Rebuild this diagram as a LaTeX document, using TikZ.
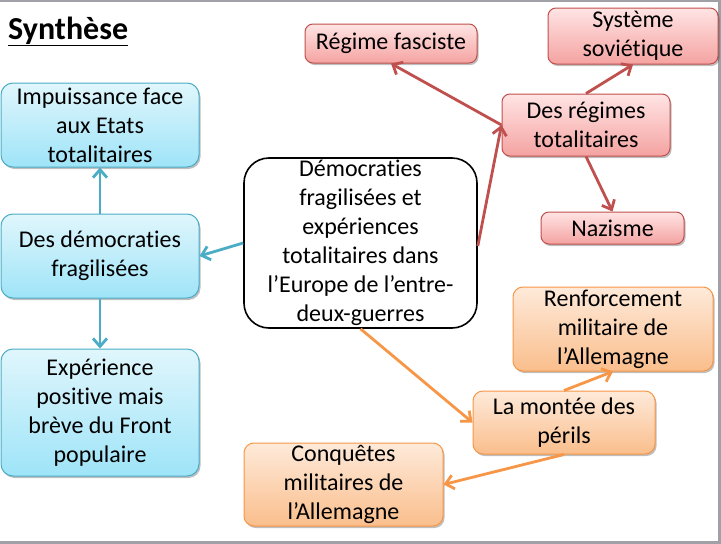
\documentclass[tikz,border=0pt]{standalone}
\usepackage{fontspec}
\setmainfont{Carlito}[Ligatures=NoCommon]
\usepackage{tikz}
\usetikzlibrary{positioning,arrows.meta,shadows}
\definecolor{Bt}{RGB}{224,246,252}
\definecolor{Bb}{RGB}{158,228,248}
\definecolor{Bl}{RGB}{75,172,198}
\definecolor{Rt}{RGB}{255,228,228}
\definecolor{Rb}{RGB}{244,163,161}
\definecolor{Rl}{RGB}{192,80,77}
\definecolor{Ot}{RGB}{254,234,218}
\definecolor{Ob}{RGB}{250,190,140}
\definecolor{Ol}{RGB}{247,150,70}
\definecolor{Fr}{RGB}{160,160,166}

\begin{document}
\begin{tikzpicture}[
  x=1pt, y=-1pt,
  every node/.style = {font=\fontsize{24}{29}\selectfont, align=center, inner sep=0pt},
  shad/.style = {drop shadow={shadow xshift=1.5pt, shadow yshift=-2pt, opacity=0.25, fill=black}},
  bluebox/.style = {
    rectangle, rounded corners=12pt, shad,
    draw=Bl, line width=1pt, top color=Bt, bottom color=Bb,
    minimum width=198pt
  },
  redbox/.style = {
    rectangle, rounded corners=8pt, shad,
    draw=Rl, line width=1pt, top color=Rt, bottom color=Rb
  },
  orbox/.style = {
    rectangle, rounded corners=10pt, shad,
    draw=Ol, line width=1pt, top color=Ot, bottom color=Ob
  },
  mainbox/.style = {
    rectangle, rounded corners=25pt,
    draw=black, line width=1.6pt, fill=white,
    minimum width=233pt, minimum height=170pt
  },
  ba/.style = {-{Straight Barb[length=8pt,width=14pt]}, line width=2.8pt, Bl},
  ra/.style = {-{Straight Barb[length=8pt,width=14pt]}, line width=2.8pt, Rl},
  oa/.style = {-{Straight Barb[length=8pt,width=14pt]}, line width=2.8pt, Ol}
]
\useasboundingbox (0,0) rectangle (721,544);

%% ---------- Frame and title ----------
\draw[Fr, line width=2pt] (0,1) -- (721,1);
\draw[Fr, line width=2.5pt] (719.7,0) -- (719.7,544);
\draw[Fr, line width=3pt] (0,542.5) -- (721,542.5);

\node[anchor=base west, font=\fontsize{32}{36}\selectfont\bfseries] (titre)
    at (8,39) {\underline{Synthèse}};

%% ---------- Centre ----------
\node[mainbox] (centre) at (360.5,243)
    {Démocraties\\fragilisées et\\expériences\\totalitaires dans\\l’Europe de l’entre-\\deux-guerres};

%% ---------- Democraties (blue) ----------
\node[bluebox, minimum height=84pt] (impuis) at (100,125)
    {Impuissance face\\aux Etats\\totalitaires};
\node[bluebox, minimum height=84pt] (demo) at (100,256)
    {Des démocraties\\fragilisées};
\node[bluebox, minimum height=127pt] (front) at (100,412.5)
    {Expérience\\positive mais\\brève du Front\\populaire};

%% ---------- Regimes totalitaires (red) ----------
\node[redbox, minimum width=172pt, minimum height=39pt] (fasc) at (391,43.5)
    {Régime fasciste};
\node[redbox, minimum width=170pt, minimum height=56pt] (sovi) at (633,36)
    {Système\\soviétique};
\node[redbox, minimum width=168pt, minimum height=62pt] (regimes) at (586,125)
    {Des régimes\\totalitaires};
\node[redbox, minimum width=143pt, minimum height=32pt] (nazi) at (612.5,228)
    {Nazisme};

%% ---------- Montee des perils (orange) ----------
\node[orbox, minimum width=200pt, minimum height=84pt] (renfort) at (613,329)
    {Renforcement\\militaire de\\l’Allemagne};
\node[orbox, minimum width=182pt, minimum height=63pt] (perils) at (564,422.5)
    {La montée des\\périls};
\node[orbox, minimum width=199pt, minimum height=83pt] (conq) at (343.5,484.5)
    {Conquêtes\\militaires de\\l’Allemagne};

%% ---------- Arrows ----------
\draw[ba] (demo.north) -- (impuis.south);
\draw[ba] (demo.south) -- (front.north);
\draw[ba] (centre.west) -- (demo.east);

\draw[ra] ([yshift=-3pt]centre.east) -- (regimes.west);
\draw[ra] (regimes.west) -- (fasc.south);
\draw[ra] (regimes.north) -- (sovi.south);
\draw[ra] (regimes.south) -- (nazi.north);

\draw[oa] (centre.south) -- (perils.west);
\draw[oa] (perils.north) -- (renfort.south);
\draw[oa] (perils.south) -- (conq.east);

\end{tikzpicture}
\end{document}
